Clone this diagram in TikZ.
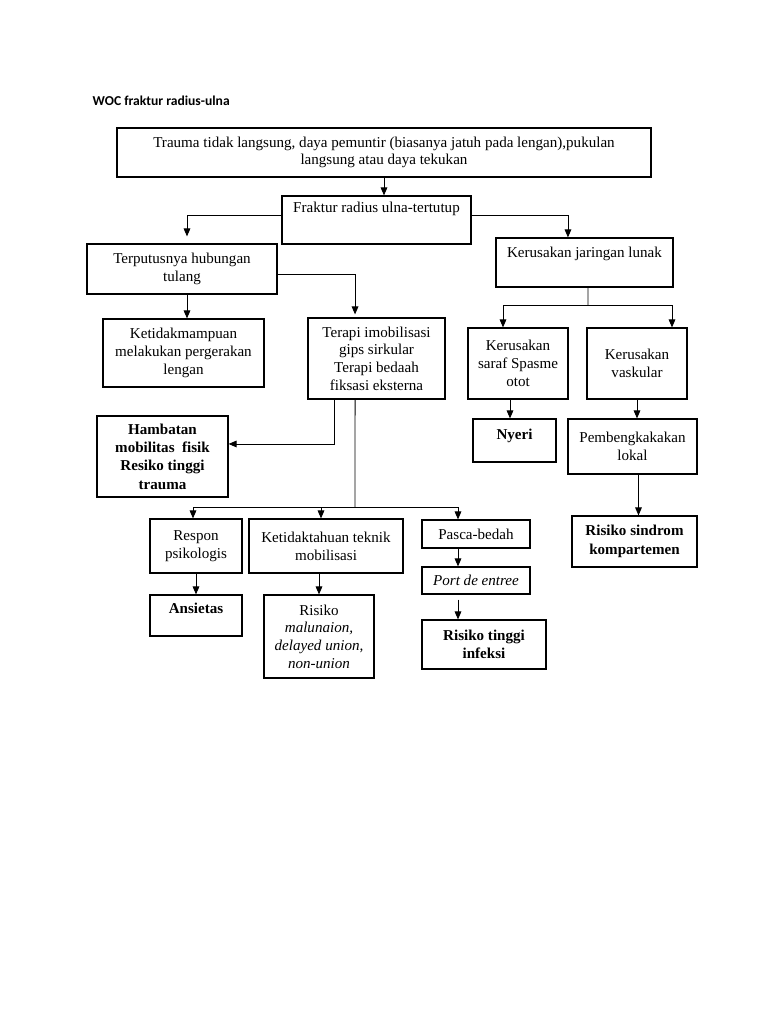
\documentclass[tikz,border=0pt]{standalone}
\usepackage{fontspec}
\setmainfont{Liberation Serif}
\newfontfamily\calibri{Carlito}
\usetikzlibrary{arrows.meta}

\begin{document}
\begin{tikzpicture}[x=0.75pt, y=-0.75pt,
    box/.style={draw, line width=0.9pt, align=center, inner sep=2pt, font=\fontsize{11.3}{13.3}\selectfont},
    bold/.style={font=\fontsize{11.3}{13.7}\selectfont\bfseries},
    toptext/.style={text height=8pt, text depth=#1},
    arr/.style={-{Triangle[width=5pt,length=6pt]}, line width=0.7pt}]
    \useasboundingbox (0,0) rectangle (768,1024);
    \node[anchor=west, font=\calibri\bfseries\fontsize{10.2}{12}\selectfont] (title) at (88,101) {WOC fraktur radius-ulna};

    \node[box, minimum width=400.5pt, minimum height=36.75pt] (trauma) at (384,152.5) {Trauma tidak langsung, daya pemuntir (biasanya jatuh pada lengan),pukulan\\ langsung atau daya tekukan};
    \node[box, toptext=20pt, minimum width=141.75pt, minimum height=36pt] (fraktur) at (376.5,220) {Fraktur radius ulna-tertutup};
    \node[box, minimum width=142.5pt, minimum height=37.5pt] (putus) at (182,269) {Terputusnya hubungan\\ tulang};
    \node[box, toptext=16.25pt, minimum width=132.75pt, minimum height=36.75pt] (lunak) at (584.5,262.5) {Kerusakan jaringan lunak};
    \node[box, minimum width=120.75pt, minimum height=51pt] (tidakmampu) at (183.5,353) {Ketidakmampuan\\ melakukan pergerakan\\ lengan};
    \node[box, minimum width=102.75pt, minimum height=60.75pt] (terapi) at (376.5,358.5) {Terapi imobilisasi\\ gips sirkular\\ Terapi bedaah\\ fiksasi eksterna};
    \node[box, minimum width=75pt, minimum height=53.25pt] (saraf) at (518,363.5) {Kerusakan\\ saraf Spasme\\ otot};
    \node[box, minimum width=75pt, minimum height=53.25pt] (vaskular) at (637,363.5) {Kerusakan\\ vaskular};
    \node[box, bold, minimum width=98.25pt, minimum height=60.75pt] (hambatan) at (162.5,456.5) {Hambatan\\ mobilitas\ \ fisik\\ Resiko tinggi\\ trauma};
    \node[box, bold, toptext=10.25pt, minimum width=62.25pt, minimum height=32.25pt] (nyeri) at (514.5,440.5) {Nyeri};
    \node[box, minimum width=96.75pt, minimum height=41.25pt] (bengkak) at (632.5,446.5) {Pembengkakakan\\ lokal};
    \node[box, minimum width=69pt, minimum height=40.5pt] (respon) at (196,546) {Respon\\ psikologis};
    \node[box, minimum width=115.5pt, minimum height=40.5pt] (tidaktahu) at (326,546) {Ketidaktahuan teknik\\ mobilisasi};
    \node[box, minimum width=81pt, minimum height=21pt] (pasca) at (476,534) {Pasca-bedah};
    \node[box, bold, minimum width=93.75pt, minimum height=38.25pt] (sindrom) at (634.5,541.5) {Risiko sindrom\\ kompartemen};
    \node[box, minimum width=81pt, minimum height=20.25pt] (port) at (476,580.5) {\textit{Port de entree}};
    \node[box, bold, toptext=11.75pt, minimum width=69pt, minimum height=30.75pt] (ansietas) at (196,615.5) {Ansietas};
    \node[box, minimum width=82.5pt, minimum height=62.25pt] (risiko) at (319,636.5) {Risiko\\ \textit{malunaion,}\\ \textit{delayed union,}\\ \textit{non-union}};
    \node[box, bold, minimum width=93pt, minimum height=36.75pt] (infeksi) at (484,644.5) {Risiko tinggi\\ infeksi};

    \draw[arr] (trauma.south) -- (trauma.south |- fraktur.north);
    \draw[arr] ([yshift=3.75pt]fraktur.west) -| ([xshift=3.75pt, yshift=5.25pt]putus.north);
    \draw[arr] ([yshift=3.75pt]fraktur.east) -| ([xshift=-12.4pt]lunak.north);
    \draw[arr] ([yshift=-3.75pt]putus.east) -| ([xshift=-16.1pt, yshift=2.25pt]terapi.north);
    \draw[arr] ([xshift=3.75pt]putus.south) -- ([xshift=3.75pt]putus.south |- tidakmampu.north);
    \draw[arr] ([xshift=-31.9pt]terapi.south) |- ([yshift=9.4pt]hambatan.east);
    \coordinate (split) at (355,507);
    \draw[line width=0.7pt] ([xshift=-16.1pt]terapi.south) -- (split);
    \foreach \n/\dx in {respon/-2.25pt, tidaktahu/-3.75pt, pasca/-13.5pt}
        \draw[arr] (split) -| ([xshift=\dx]\n.north);
    \coordinate (split2) at (588,305);
    \draw[line width=0.7pt] ([xshift=2.6pt]lunak.south) -- (split2);
    \foreach \n/\dx in {saraf/-11.25pt, vaskular/26.25pt}
        \draw[arr] (split2) -| ([xshift=\dx]\n.north);
    \draw[arr] ([xshift=-6pt]saraf.south) -- ([xshift=-6pt]saraf.south |- nyeri.north);
    \draw[arr] (vaskular.south) -- (vaskular.south |- bengkak.north);
    \draw[arr] ([xshift=4.5pt]bengkak.south) -- ([xshift=4.5pt]bengkak.south |- sindrom.north);
    \draw[arr] (respon) -- (ansietas);
    \draw[arr] (risiko.north |- tidaktahu.south) -- (risiko.north);
    \draw[arr] ([xshift=-13.5pt]pasca.south) -- ([xshift=-13.5pt]pasca.south |- port.north);
    \draw[arr] ([xshift=-13.5pt, yshift=-3.75pt]port.south) -- ([xshift=-13.5pt]port.south |- infeksi.north);
\end{tikzpicture}
\end{document}
